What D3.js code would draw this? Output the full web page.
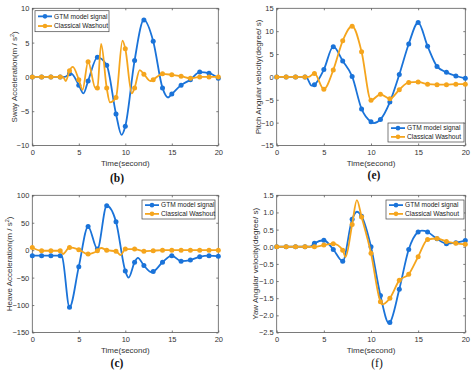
<!DOCTYPE html>
<html>
<head>
<meta charset="utf-8">
<script src="https://cdn.jsdelivr.net/npm/d3@7"></script>
<style>
body{margin:0;background:#fff;}
svg{display:block;font-family:"Liberation Sans",Arial,sans-serif;}
</style>
</head>
<body>
<svg id="fig" width="474" height="374"></svg>
<script>
// tick values
var timeTicks = [0, 5, 10, 15, 20];
var swayTicks = [-10, -5, 0, 5, 10];
var pitchTicks = [-15, -10, -5, 0, 5, 10, 15];
var heaveTicks = [-150, -100, -50, 0, 50, 100];
var yawTicks = [-2.5, -2, -1.5, -1, -0.5, 0, 0.5, 1, 1.5];
var seriesNames = ["GTM model signal", "Classical Washout"];

// [time, value], markers sit on whole seconds
var swayGtm = [[0,0],[1,0],[2,0],[3,0],[3.5,0],[4,0.45],[4.15,0.5],[5,-1.2],[5.5,-2.4],[6,-0.6],[7,2.85],[8,1.7],[9,-5.4],[9.6,-8.45],[10,-7.2],[11,2.4],[12,8.3],[13,5.2],[14,-1.6],[14.6,-3.0],[15,-2.5],[16,-1.2],[17,-0.4],[18,0.7],[19,0.55],[20,-0.2]];
var swayWashout = [[0,0],[1,0],[2,0],[3,0],[3.3,0],[3.6,-0.6],[4,0.9],[4.35,1.45],[5,-0.4],[5.4,-1.9],[6,2.2],[6.8,-1.7],[7,-1.6],[7.4,4.8],[8,-1.6],[8.35,-3.7],[9,-3.0],[9.7,5.3],[10,4.1],[10.7,-2.4],[11,-1.6],[11.55,1.0],[12,0.4],[12.7,-0.6],[13,-0.4],[14,0.45],[15,0.3],[16,0.1],[17,-0.2],[18,0],[19,0],[20,0]];

var pitchGtm = [[0,0],[1,0],[2,0],[3,0],[3.2,-0.2],[3.7,-1.9],[4,-1.7],[5,1.6],[6,6.6],[7,3.5],[8,0.1],[9,-7.0],[10,-9.8],[10.3,-10.1],[11,-9.3],[12,-5.5],[13,0.5],[14,7.2],[15,11.9],[16,6.7],[17,2.3],[18,1.0],[19,0.2],[20,-0.3]];
var pitchWashout = [[0,0],[1,0],[2,0],[3,0],[3.4,0],[4,0.75],[5,-2.7],[6,1.5],[7,7.9],[8,11.1],[9,5.5],[10,-5.1],[11,-3.8],[12,-4.8],[13,-2.8],[14,-1.2],[15,-1.1],[16,-1.6],[17,-1.7],[18,-1.7],[19,-1.6],[20,-1.6]];

var heaveGtm = [[0,-10],[1,-10],[2,-10],[3,-10],[3.2,-12],[4,-104],[5,-30],[6,43],[7,2],[8,81],[9,52],[10,-38],[10.35,-50],[11,-22],[11.35,-14],[12,-28],[12.8,-40],[13,-39],[14,-22],[15,-10],[16,-20],[17,-18],[18,-12],[19,-10],[20,-11]];
var heaveWashout = [[0,5],[1,-1],[2,-1],[3,-1],[3.3,-7],[4,5],[5,1],[6,-7],[7,-1],[7.4,4],[8,0],[9,-2],[9.5,-9],[10,2],[11,2],[12,-2],[13,-1],[14,0],[15,0],[16,0],[17,0],[18,0],[19,0],[20,0]];

var yawGtm = [[0,0],[1,0],[2,0],[3,0],[3.5,0],[4,0.1],[5,0.19],[6,-0.08],[7,-0.42],[8,0.8],[8.5,1.02],[9,0.89],[10,0],[11,-1.42],[11.9,-2.23],[12,-2.21],[13,-1.24],[14,-0.08],[15,0.43],[15.4,0.47],[16,0.43],[17,0.23],[18,0.09],[19,0.12],[20,0.18]];
var yawWashout = [[0,0],[1,0],[2,0],[3,0],[4,0],[5,0.05],[6,0.09],[7,-0.1],[7.3,-0.3],[8,0.65],[8.5,1.36],[9,0.87],[10,-0.19],[11,-1.6],[11.2,-1.68],[12,-1.5],[13,-0.98],[14,-0.8],[15,-0.29],[16,0.21],[17,0.24],[18,0.15],[19,0.1],[20,0.07]];

var blue = "#1a73d9";
var orange = "#f5a51d";
var axisColor = "#5a5a5a";

var svg = d3.select("#fig");

var panels = [
    {left:32.3, right:218.3, top:8.3, bottom:145.5, domain:[-10,10], ticks:swayTicks,
     gtm:swayGtm, wash:swayWashout, label:"Sway Acceleration(m / s", sup:true, labelX:14,
     legend:{x:35, y:10.7, w:74, h:21}, caption:"(b)", capX:117, capY:182, bold:true},
    {left:276.7, right:465.3, top:8.3, bottom:145.5, domain:[-15,15], ticks:pitchTicks,
     gtm:pitchGtm, wash:pitchWashout, label:"Pitch Angular velocity(degree/ s)", sup:false, labelX:258,
     legend:{x:388, y:123, w:76, h:19}, caption:"(e)", capX:374, capY:179, bold:true},
    {left:32.3, right:218.3, top:195.3, bottom:332.5, domain:[-150,100], ticks:heaveTicks,
     gtm:heaveGtm, wash:heaveWashout, label:"Heave Acceleration(m / s", sup:true, labelX:9,
     legend:{x:142, y:200, w:73, h:19}, caption:"(c)", capX:117, capY:367, bold:true},
    {left:276.7, right:465.3, top:195.3, bottom:332.5, domain:[-2.5,1.5], ticks:yawTicks,
     gtm:yawGtm, wash:yawWashout, label:"Yaw Angular velocity(degree/ s)", sup:false, labelX:255,
     legend:{x:386, y:200, w:78, h:19}, caption:"(f)", capX:377, capY:367, bold:false}
];

var styleAxis = function(sel)
{
    sel.select(".domain").remove();
    sel.selectAll(".tick line").attr("stroke", axisColor).attr("stroke-width", 0.8);
    sel.selectAll(".tick text")
        .attr("fill", "#333")
        .style("font-size", "7.5px")
        .style("font-family", "'Liberation Sans', Arial, sans-serif");
}

var drawPanel = function(p)
{
    var g = svg.append("g");

    var x = d3.scaleLinear().domain([0,20]).range([p.left,p.right]);
    var y = d3.scaleLinear().domain(p.domain).range([p.bottom,p.top]);

    g.append("rect")
        .attr("x", p.left)
        .attr("y", p.top)
        .attr("width", p.right-p.left)
        .attr("height", p.bottom-p.top)
        .attr("fill", "#fff")
        .attr("stroke", axisColor)
        .attr("stroke-width", 0.8);

    g.append("g")
        .attr("transform", "translate(0,"+p.bottom+")")
        .call(d3.axisBottom(x).tickValues(timeTicks).tickSize(-2).tickPadding(4))
        .call(styleAxis);
    g.append("g")
        .attr("transform", "translate(0,"+p.top+")")
        .call(d3.axisTop(x).tickValues(timeTicks).tickSize(-2).tickFormat(""))
        .call(styleAxis);
    g.append("g")
        .attr("transform", "translate("+p.left+",0)")
        .call(d3.axisLeft(y).tickValues(p.ticks).tickSize(-2).tickPadding(3))
        .call(styleAxis);
    g.append("g")
        .attr("transform", "translate("+p.right+",0)")
        .call(d3.axisRight(y).tickValues(p.ticks).tickSize(-2).tickFormat(""))
        .call(styleAxis);

    var line = d3.line()
        .x(function(d){ return x(d[0]); })
        .y(function(d){ return y(d[1]); })
        .curve(d3.curveMonotoneX);

    var series = [{data:p.gtm, color:blue}, {data:p.wash, color:orange}];
    series.forEach(function(s)
    {
        g.append("path")
            .datum(s.data)
            .attr("d", line)
            .attr("fill", "none")
            .attr("stroke", s.color)
            .attr("stroke-width", 1.8);
        g.selectAll(null)
            .data(s.data.filter(function(d){ return Number.isInteger(d[0]); }))
            .enter()
            .append("circle")
            .attr("cx", function(d){ return x(d[0]); })
            .attr("cy", function(d){ return y(d[1]); })
            .attr("r", 2.5)
            .attr("fill", s.color);
    });

    // axis titles
    g.append("text")
        .attr("x", (p.left+p.right)/2)
        .attr("y", p.bottom+20.5)
        .attr("text-anchor", "middle")
        .attr("fill", "#333")
        .style("font-size", "8px")
        .text("Time(second)");

    var yl = g.append("text")
        .attr("transform", "translate("+p.labelX+","+((p.top+p.bottom)/2)+") rotate(-90)")
        .attr("text-anchor", "middle")
        .attr("dy", "0.35em")
        .attr("fill", "#333")
        .style("font-size", "8px");
    yl.append("tspan").text(p.label);
    if (p.sup)
    {
        yl.append("tspan").attr("baseline-shift", "super").style("font-size", "5.5px").text("2");
        yl.append("tspan").text(")");
    }

    // legend
    var lg = g.append("g").attr("transform", "translate("+p.legend.x+","+p.legend.y+")");
    lg.append("rect")
        .attr("width", p.legend.w)
        .attr("height", p.legend.h)
        .attr("fill", "#fff")
        .attr("stroke", "#444")
        .attr("stroke-width", 0.7);
    series.forEach(function(s, i)
    {
        var cy = p.legend.h*(i==0 ? 0.27 : 0.73);
        lg.append("line")
            .attr("x1", 3).attr("x2", 17)
            .attr("y1", cy).attr("y2", cy)
            .attr("stroke", s.color)
            .attr("stroke-width", 1.8);
        lg.append("circle")
            .attr("cx", 10).attr("cy", cy)
            .attr("r", 2.3)
            .attr("fill", s.color);
        lg.append("text")
            .attr("x", 19)
            .attr("y", cy)
            .attr("dy", "0.35em")
            .attr("fill", "#222")
            .style("font-size", "6.6px")
            .text(seriesNames[i]);
    });

    g.append("text")
        .attr("x", p.capX)
        .attr("y", p.capY)
        .attr("text-anchor", "middle")
        .attr("fill", "#111")
        .style("font-family", "'Liberation Serif', 'Times New Roman', serif")
        .style("font-size", "11.5px")
        .style("font-weight", p.bold ? "bold" : "normal")
        .text(p.caption);
}

panels.forEach(drawPanel);
</script>
</body>
</html>
